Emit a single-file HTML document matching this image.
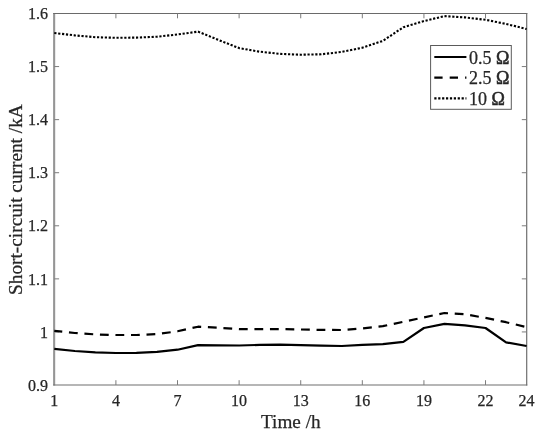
<!DOCTYPE html>
<html><head><meta charset="utf-8"><title>Short-circuit current</title>
<style>html,body{margin:0;padding:0;background:#fff}svg{display:block}text{font-family:"Liberation Serif","Times New Roman",serif;fill:#262626;stroke:#262626;stroke-width:0.25px}</style></head><body>
<svg width="550" height="436" viewBox="0 0 550 436">
<rect width="550" height="436" fill="#fff"/>
<g fill="none">
<path d="M54.15 13V385.6" stroke="#959595" stroke-width="2.1"/>
<path d="M53.2 13.5H527.3" stroke="#6a6a6a" stroke-width="1"/>
<path d="M526.7 13V385.6" stroke="#6e6e6e" stroke-width="1.2"/>
<path d="M53.2 385H527.3" stroke="#6e6e6e" stroke-width="1.2"/>
</g>
<g stroke="#7c7c7c" stroke-width="1" fill="none">
<path d="M115.90 385.0v-4.8M115.90 13.5v4.8"/>
<path d="M177.51 385.0v-4.8M177.51 13.5v4.8"/>
<path d="M239.11 385.0v-4.8M239.11 13.5v4.8"/>
<path d="M300.72 385.0v-4.8M300.72 13.5v4.8"/>
<path d="M362.32 385.0v-4.8M362.32 13.5v4.8"/>
<path d="M423.93 385.0v-4.8M423.93 13.5v4.8"/>
<path d="M485.53 385.0v-4.8M485.53 13.5v4.8"/>
<path d="M54.3 331.93h4.8M526.6 331.93h-4.8"/>
<path d="M54.3 278.86h4.8M526.6 278.86h-4.8"/>
<path d="M54.3 225.79h4.8M526.6 225.79h-4.8"/>
<path d="M54.3 172.71h4.8M526.6 172.71h-4.8"/>
<path d="M54.3 119.64h4.8M526.6 119.64h-4.8"/>
<path d="M54.3 66.57h4.8M526.6 66.57h-4.8"/>
</g>
<g font-size="16">
<text x="54.30" y="405.5" text-anchor="middle">1</text>
<text x="115.90" y="405.5" text-anchor="middle">4</text>
<text x="177.51" y="405.5" text-anchor="middle">7</text>
<text x="239.11" y="405.5" text-anchor="middle">10</text>
<text x="300.72" y="405.5" text-anchor="middle">13</text>
<text x="362.32" y="405.5" text-anchor="middle">16</text>
<text x="423.93" y="405.5" text-anchor="middle">19</text>
<text x="485.53" y="405.5" text-anchor="middle">22</text>
<text x="526.60" y="405.5" text-anchor="middle">24</text>
<text x="48.0" y="390.70" text-anchor="end">0.9</text>
<text x="48.0" y="337.63" text-anchor="end">1</text>
<text x="48.0" y="284.56" text-anchor="end">1.1</text>
<text x="48.0" y="231.49" text-anchor="end">1.2</text>
<text x="48.0" y="178.41" text-anchor="end">1.3</text>
<text x="48.0" y="125.34" text-anchor="end">1.4</text>
<text x="48.0" y="72.27" text-anchor="end">1.5</text>
<text x="48.0" y="18.90" text-anchor="end">1.6</text>
</g>
<text x="290.8" y="427.6" font-size="19.2" text-anchor="middle">Time /h</text>
<text transform="translate(21.8 199.6) rotate(-90)" font-size="19.3" text-anchor="middle">Short-circuit current /kA</text>
<g fill="none" stroke="#000" stroke-width="2.2" stroke-linejoin="round">
<polyline points="54.30,348.80 74.83,351.00 95.37,352.40 115.90,353.00 136.44,352.80 156.97,351.90 177.51,349.70 198.04,345.10 218.58,345.30 239.11,345.50 259.65,344.90 280.18,344.70 300.72,345.10 321.25,345.60 341.79,346.00 362.32,344.90 382.86,344.20 403.39,341.80 423.93,328.00 444.46,323.80 465.00,325.30 485.53,328.00 506.07,342.30 526.60,346.00"/>
<polyline points="54.30,330.80 74.83,333.00 95.37,334.40 115.90,335.00 136.44,335.00 156.97,334.10 177.51,331.30 198.04,326.70 218.58,327.70 239.11,329.10 259.65,329.10 280.18,329.10 300.72,329.50 321.25,329.90 341.79,330.00 362.32,328.40 382.86,326.20 403.39,321.80 423.93,317.40 444.46,313.00 465.00,314.30 485.53,317.90 506.07,322.20 526.60,327.10" stroke-dasharray="8.8 6.73" stroke-dashoffset="0.8"/>
<polyline points="54.30,33.00 74.83,35.40 95.37,37.20 115.90,37.80 136.44,37.60 156.97,36.70 177.51,34.50 198.04,31.60 218.58,40.00 239.11,48.10 259.65,51.70 280.18,53.90 300.72,54.70 321.25,54.30 341.79,51.90 362.32,47.70 382.86,40.90 403.39,27.20 423.93,21.10 444.46,16.10 465.00,17.40 485.53,19.80 506.07,23.90 526.60,29.00" stroke-width="2.1" stroke-dasharray="2.2 1.7"/>
</g>
<rect x="430.6" y="45.5" width="80.7" height="63.8" fill="#fff" stroke="#5a5a5a" stroke-width="1"/>
<g fill="none" stroke="#000" stroke-width="2.1">
<path d="M434.3 57H466.4"/>
<path d="M434.3 77.65H466.4" stroke-dasharray="8.3 7.1"/>
<path d="M434.3 98.4H466.4" stroke-dasharray="2.2 1.7" stroke-width="2.1"/>
</g>
<g font-size="18">
<text x="469.0" y="63.7">0.5 <tspan style="stroke-width:0.55px">Ω</tspan></text>
<text x="469.0" y="84.4">2.5 <tspan style="stroke-width:0.55px">Ω</tspan></text>
<text x="469.0" y="105.4">10 <tspan style="stroke-width:0.55px">Ω</tspan></text>
</g>
</svg></body></html>
